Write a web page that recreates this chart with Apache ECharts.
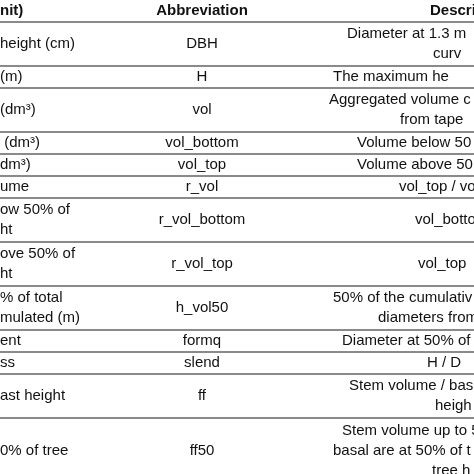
<!DOCTYPE html>
<html><head><meta charset="utf-8">
<script src="https://cdn.jsdelivr.net/npm/echarts@6/dist/echarts.min.js"></script>
<style>html,body{margin:0;padding:0;background:#fff}#c{width:474px;height:474px}</style>
</head><body><div id="c"></div>
<script>
// Table content (visible portions)
var header = ['nit)', 'Abbreviation', 'Descri'];
var col1 = [['height (cm)'], ['(m)'], ['(dm³)'], [' (dm³)'], ['dm³)'], ['ume'], ['ow 50% of', 'ht'], ['ove 50% of', 'ht'], ['% of total', 'mulated (m)'], ['ent'], ['ss'], ['ast height'], ['0% of tree']];
var abbr = ['DBH', 'H', 'vol', 'vol_bottom', 'vol_top', 'r_vol', 'r_vol_bottom', 'r_vol_top', 'h_vol50', 'formq', 'slend', 'ff', 'ff50'];
var desc = [['Diameter at 1.3 m', 'curv'], ['The maximum he'], ['Aggregated volume c', 'from tape'], ['Volume below 50'], ['Volume above 50'], ['vol_top / vo'], ['vol_botto'], ['vol_top'], ['50% of the cumulativ', 'diameters from'], ['Diameter at 50% of'], ['H / D'], ['Stem volume / bas', 'heigh'], ['Stem volume up to 5', 'basal are at 50% of t', 'tree h']];
var rowLines = [2, 1, 2, 1, 1, 1, 2, 2, 2, 1, 1, 2, 3];

// layout
var descX = [[347, 433], [333], [329, 400], [357], [357], [399], [415], [418], [333, 378], [342], [427], [349, 435], [342, 333, 432]];
var descHeaderX = 430;
var headerH = 22, lineH = 22, fs = 15, font = '"Liberation Sans", Arial, sans-serif';

var g = [];
function txt(s, x, y, align, bold) {
  g.push({type: 'text', left: null, x: x, y: y, style: {text: s, x: 0, y: 0, fill: '#111', font: (bold ? 'bold ' : '') + fs + 'px ' + font, textAlign: align, textVerticalAlign: 'middle'}});
}
function hline(y) {
  g.push({type: 'line', shape: {x1: 0, y1: y, x2: 474, y2: y}, style: {stroke: '#8a8a8a', lineWidth: 2}});
}
txt(header[0], 0, 11, 'left', true);
txt(header[1], 202, 11, 'center', true);
txt(header[2], descHeaderX, 11, 'left', true);
var y = headerH;
hline(y);
for (var i = 0; i < abbr.length; i++) {
  var h = rowLines[i] * lineH;
  var cy = y + h / 2;
  var n1 = col1[i].length;
  col1[i].forEach(function (s, k) { txt(s, 0, cy + (k - (n1 - 1) / 2) * 20, 'left'); });
  txt(abbr[i], 202, cy, 'center');
  var n3 = desc[i].length;
  desc[i].forEach(function (s, k) { txt(s, descX[i][k], cy + (k - (n3 - 1) / 2) * 20, 'left'); });
  y += h;
  hline(y);
}
var chart = echarts.init(document.getElementById('c'));
chart.setOption({animation: false, graphic: {elements: g}});
</script></body></html>
